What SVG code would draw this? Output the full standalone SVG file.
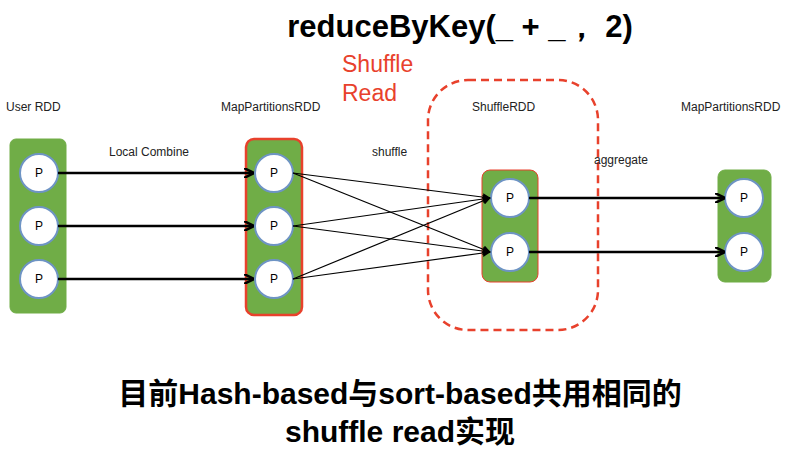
<svg xmlns="http://www.w3.org/2000/svg" width="799" height="454" viewBox="0 0 799 454">
<style>
.box{fill:#70ad47;stroke:#70ad47}
.rbox{fill:#70ad47;stroke:#e8412c;stroke-width:2.5}
.c{fill:#fff;stroke:#6e94c4;stroke-width:2}
.p{font-family:"Liberation Sans",sans-serif;font-size:12px;text-anchor:middle;fill:#000}
.lbl{font-family:"Liberation Sans",sans-serif;font-size:12px;fill:#222}
.thick{stroke:#000;stroke-width:2.5;fill:none}
.thin{stroke:#000;stroke-width:1.2;fill:none}
</style>
<defs>
<marker id="a" viewBox="0 0 10 10" refX="9" refY="5" markerWidth="4" markerHeight="4" orient="auto"><path d="M0,0 L10,5 L0,10" fill="none" stroke="#000" stroke-width="2.5"/></marker>
<marker id="f" viewBox="0 0 10 10" refX="9" refY="5" markerWidth="8" markerHeight="8" orient="auto" markerUnits="userSpaceOnUse"><path d="M0,0 L10,5 L0,10z" fill="#000"/></marker>
</defs>
<rect width="799" height="454" fill="#fff"/>
<text x="460" y="37" font-family="Liberation Sans,sans-serif" font-size="31" font-weight="bold" text-anchor="middle">reduceByKey(_ + _，  2)</text>
<text x="342" y="72" font-family="Liberation Sans,sans-serif" font-size="23" fill="#e8412c">Shuffle</text>
<text x="342" y="101" font-family="Liberation Sans,sans-serif" font-size="23" fill="#e8412c">Read</text>
<rect x="428" y="80" width="170" height="250" rx="40" fill="none" stroke="#e8412c" stroke-width="2.5" stroke-dasharray="8,5"/>
<text class="lbl" x="6" y="111">User RDD</text>
<text class="lbl" x="221" y="111">MapPartitionsRDD</text>
<text class="lbl" x="472" y="111">ShuffleRDD</text>
<text class="lbl" x="681" y="111">MapPartitionsRDD</text>
<text class="lbl" x="109" y="156">Local Combine</text>
<text class="lbl" x="372" y="156">shuffle</text>
<text class="lbl" x="594" y="164">aggregate</text>
<g id="userRDD">
<rect class="box" x="10" y="139" width="56" height="174" rx="6"/>
<circle class="c" cx="39" cy="173" r="19"/><text class="p" x="39" y="177">P</text>
<circle class="c" cx="39" cy="226" r="19"/><text class="p" x="39" y="230">P</text>
<circle class="c" cx="39" cy="279" r="19"/><text class="p" x="39" y="283">P</text>
</g>
<g id="mapRDD1">
<rect class="rbox" x="246" y="139" width="56" height="176" rx="8"/>
<circle class="c" cx="274" cy="173" r="19"/><text class="p" x="274" y="177">P</text>
<circle class="c" cx="274" cy="226" r="19"/><text class="p" x="274" y="230">P</text>
<circle class="c" cx="274" cy="279" r="19"/><text class="p" x="274" y="283">P</text>
</g>
<g id="shuffleRDD">
<rect x="482" y="170" width="56" height="112" rx="8" fill="#70ad47" stroke="#e8412c" stroke-width="1"/>
<circle class="c" cx="510" cy="198" r="19"/><text class="p" x="510" y="202">P</text>
<circle class="c" cx="510" cy="252" r="19"/><text class="p" x="510" y="256">P</text>
</g>
<g id="mapRDD2">
<rect class="box" x="718" y="170" width="53" height="112" rx="7"/>
<circle class="c" cx="744" cy="198" r="19"/><text class="p" x="744" y="202">P</text>
<circle class="c" cx="744" cy="252" r="19"/><text class="p" x="744" y="256">P</text>
</g>
<g id="connectors">
<line class="thick" x1="58" y1="173" x2="253" y2="173" marker-end="url(#a)"/>
<line class="thick" x1="58" y1="226" x2="253" y2="226" marker-end="url(#a)"/>
<line class="thick" x1="58" y1="279" x2="253" y2="279" marker-end="url(#a)"/>
<line class="thin" x1="293" y1="173" x2="490" y2="198" marker-end="url(#f)"/>
<line class="thin" x1="293" y1="173" x2="490" y2="252" marker-end="url(#f)"/>
<line class="thin" x1="293" y1="226" x2="490" y2="198" marker-end="url(#f)"/>
<line class="thin" x1="293" y1="226" x2="490" y2="252" marker-end="url(#f)"/>
<line class="thin" x1="293" y1="279" x2="490" y2="198" marker-end="url(#f)"/>
<line class="thin" x1="293" y1="279" x2="490" y2="252" marker-end="url(#f)"/>
<line class="thick" x1="529" y1="198" x2="724" y2="198" marker-end="url(#a)"/>
<line class="thick" x1="529" y1="252" x2="724" y2="252" marker-end="url(#a)"/>
</g>
<text x="400" y="404" font-family="Liberation Sans,Noto Sans CJK SC,sans-serif" font-size="30" font-weight="bold" text-anchor="middle">目前Hash-based与sort-based共用相同的</text>
<text x="400" y="442" font-family="Liberation Sans,Noto Sans CJK SC,sans-serif" font-size="30" font-weight="bold" text-anchor="middle">shuffle read实现</text>
</svg>
